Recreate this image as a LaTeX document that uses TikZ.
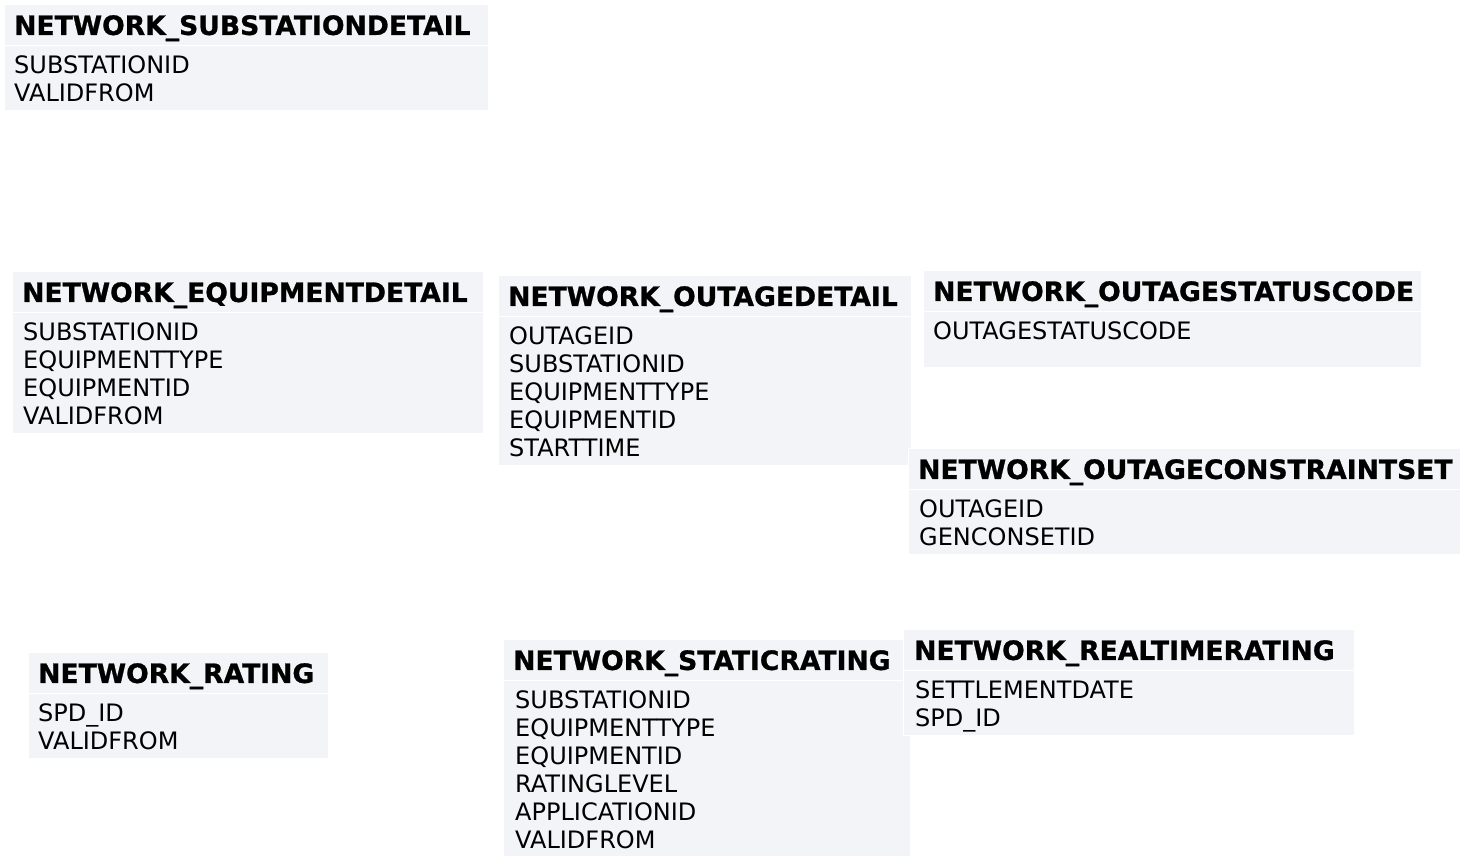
\documentclass[tikz,border=0pt]{standalone}
\usepackage{fontspec}
\setmainfont{DejaVu Sans}[BoldFeatures={FakeBold=1}]
\definecolor{entfill}{HTML}{F3F4F8}

\tikzset{
  entbox/.style = {fill=entfill, draw=white, line width=1pt},
  entsep/.style = {draw=white, line width=1.2pt},
  enttitle/.style = {anchor=north west, inner sep=0pt, font=\bfseries\fontsize{26.6}{30}\selectfont},
  entfields/.style = {anchor=north west, inner sep=0pt, align=left, font=\fontsize{24}{28}\selectfont},
}

\begin{document}
\begin{tikzpicture}[x = 1pt, y = -1pt]
\useasboundingbox (0,0) rectangle (1466,862);

% substation detail
\draw[entbox] (4,4) rectangle (488,110);
\draw[entsep] (4,45.5) -- (488,45.5);
\node[enttitle] (sd) at (14,15) {NETWORK\_SUBSTATIONDETAIL};
\node[entfields] (sdf) at (14,55) {SUBSTATIONID\\VALIDFROM};

% equipment detail
\draw[entbox] (12,271) rectangle (483,433);
\draw[entsep] (12,312.5) -- (483,312.5);
\node[enttitle] (ed) at (22,282) {NETWORK\_EQUIPMENTDETAIL};
\node[entfields] (edf) at (23,322) {SUBSTATIONID\\EQUIPMENTTYPE\\EQUIPMENTID\\VALIDFROM};

% outage detail
\draw[entbox] (498,275) rectangle (911,465);
\draw[entsep] (498,316.5) -- (911,316.5);
\node[enttitle] (od) at (508,286) {NETWORK\_OUTAGEDETAIL};
\node[entfields] (odf) at (509,326) {OUTAGEID\\SUBSTATIONID\\EQUIPMENTTYPE\\EQUIPMENTID\\STARTTIME};

% outage status code
\draw[entbox] (923,270) rectangle (1421,367);
\draw[entsep] (923,311.5) -- (1421,311.5);
\node[enttitle] (osc) at (933,281) {NETWORK\_OUTAGESTATUSCODE};
\node[entfields] (oscf) at (933,321) {OUTAGESTATUSCODE};

% outage constraint set
\draw[entbox] (908,448) rectangle (1460,554);
\draw[entsep] (908,489.5) -- (1460,489.5);
\node[enttitle] (ocs) at (918,459) {NETWORK\_OUTAGECONSTRAINTSET};
\node[entfields] (ocsf) at (919,499) {OUTAGEID\\GENCONSETID};

% rating
\draw[entbox] (28,652) rectangle (328,758);
\draw[entsep] (28,693.5) -- (328,693.5);
\node[enttitle] (rt) at (38,663) {NETWORK\_RATING};
\node[entfields] (rtf) at (38,703) {SPD\_ID\\VALIDFROM};

% static rating
\draw[entbox] (503,639) rectangle (910,856);
\draw[entsep] (503,680.5) -- (910,680.5);
\node[enttitle] (sr) at (513,650) {NETWORK\_STATICRATING};
\node[entfields] (srf) at (515,690) {SUBSTATIONID\\EQUIPMENTTYPE\\EQUIPMENTID\\RATINGLEVEL\\APPLICATIONID\\VALIDFROM};

% realtime rating
\draw[entbox] (903,629) rectangle (1354,735);
\draw[entsep] (903,670.5) -- (1354,670.5);
\node[enttitle] (rtr) at (914,640) {NETWORK\_REALTIMERATING};
\node[entfields] (rtrf) at (915,680) {SETTLEMENTDATE\\SPD\_ID};
\end{tikzpicture}
\end{document}
